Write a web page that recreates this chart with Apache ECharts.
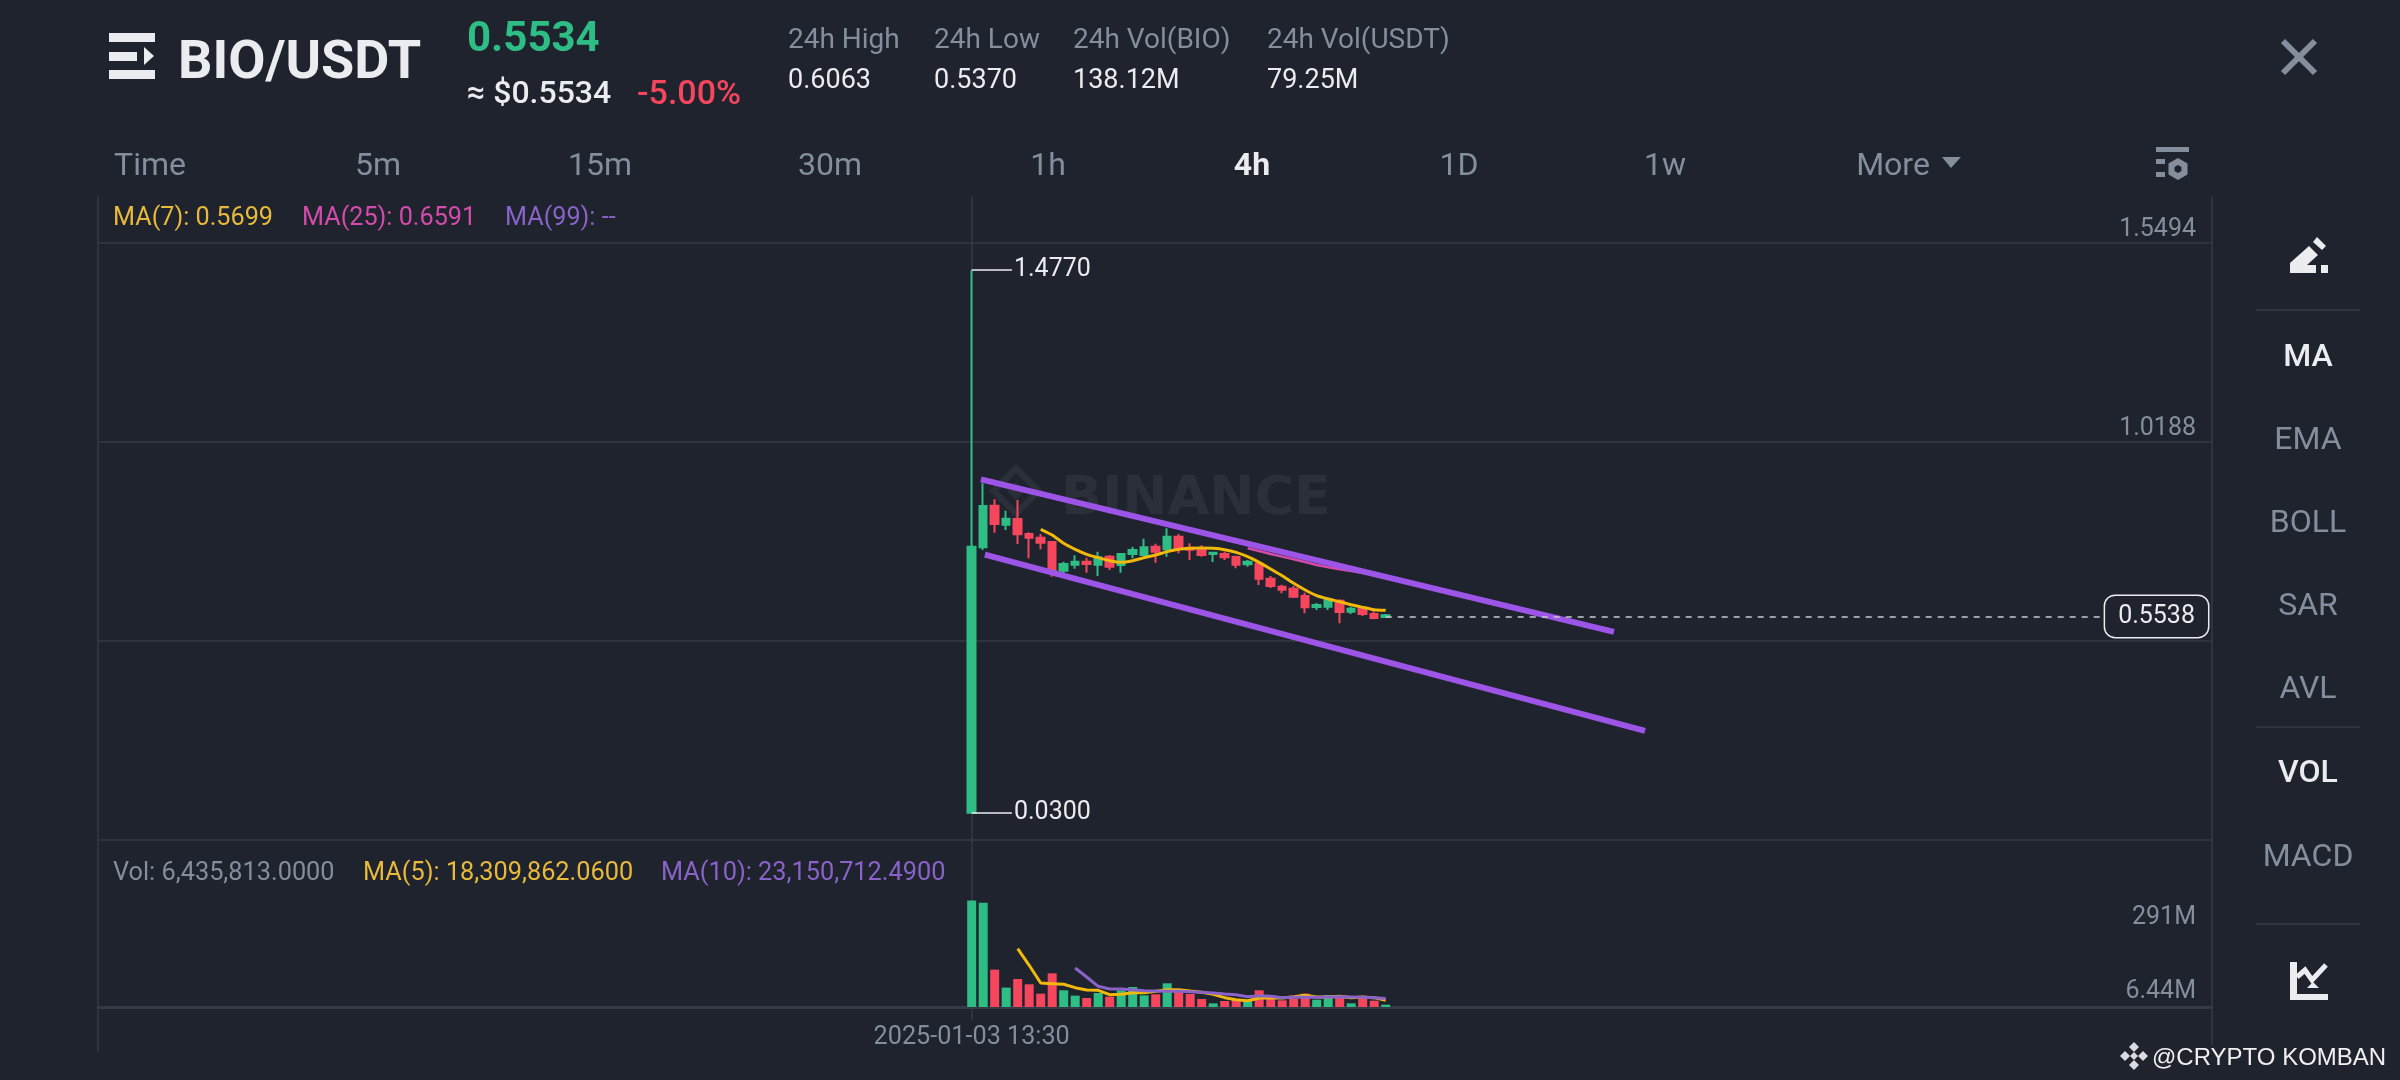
<!DOCTYPE html>
<html>
<head>
<meta charset="utf-8">
<style>html,body{margin:0;padding:0;background:#1e232d}#chart{width:2400px;height:1080px}</style>
<script src="https://cdn.jsdelivr.net/npm/echarts@6/dist/echarts.min.js"></script>
</head>
<body>
<div id="chart"></div>
<script>
// candle values
const opens  = [0.03, 0.7379, 0.8491, 0.7984, 0.8135, 0.7735, 0.7637, 0.7522, 0.6757, 0.6917, 0.6997, 0.6917, 0.7131, 0.6908, 0.7202, 0.7175, 0.7397, 0.7326, 0.7664, 0.7371, 0.7317, 0.7202, 0.7202, 0.7122, 0.6926, 0.6944, 0.6544, 0.6330, 0.6277, 0.6081, 0.5788, 0.5797, 0.5957, 0.5664, 0.5735, 0.5601, 0.5521];
const closes = [0.7397, 0.8482, 0.8002, 0.8144, 0.7726, 0.7637, 0.7504, 0.6775, 0.6935, 0.6997, 0.6935, 0.7113, 0.6864, 0.7202, 0.7308, 0.7379, 0.7264, 0.7664, 0.7344, 0.7317, 0.7175, 0.7237, 0.7113, 0.6917, 0.6997, 0.6544, 0.6348, 0.6250, 0.6064, 0.5779, 0.5841, 0.5993, 0.5655, 0.5744, 0.5601, 0.5495, 0.5566];
const lows   = [0.03, 0.7308, 0.7771, 0.7842, 0.7468, 0.7086, 0.7326, 0.6597, 0.6686, 0.6810, 0.6704, 0.6615, 0.6775, 0.6704, 0.7086, 0.7131, 0.6970, 0.7131, 0.7219, 0.7042, 0.7131, 0.6988, 0.7042, 0.6819, 0.6864, 0.6375, 0.6295, 0.6153, 0.6028, 0.5619, 0.5708, 0.5708, 0.5352, 0.5601, 0.5548, 0.5459, 0.5495];
const highs  = [1.477, 0.9086, 0.8660, 0.8357, 0.8642, 0.7779, 0.7735, 0.7522, 0.6997, 0.7166, 0.7104, 0.7264, 0.7175, 0.7219, 0.7397, 0.7611, 0.7477, 0.7886, 0.7735, 0.7486, 0.7433, 0.7237, 0.7264, 0.7157, 0.7042, 0.6997, 0.6615, 0.6384, 0.6348, 0.6170, 0.5895, 0.6046, 0.5993, 0.5797, 0.5753, 0.5672, 0.5601];
const volumes = [291, 285, 102, 53, 76.5, 62, 36.4, 92, 45.6, 31, 24.6, 38.3, 28.2, 45.6, 54.7, 31.9, 34.6, 64.7, 41, 35.5, 21.9, 10, 16.4, 20, 16.4, 45.6, 22.8, 18.2, 22.8, 36.4, 20, 32.8, 32.8, 10, 22.8, 17.3, 6.44];

const ma7Start = 6;
const ma7 = [0.7860, 0.7708, 0.7486, 0.7326, 0.7193, 0.7104, 0.7024, 0.6979, 0.7024, 0.7104, 0.7175, 0.7264, 0.7326, 0.7353, 0.7362, 0.7353, 0.7317, 0.7246, 0.7131, 0.6979, 0.6802, 0.6624, 0.6419, 0.6241, 0.6091, 0.6001, 0.5930, 0.5850, 0.5779, 0.5717, 0.5699];
const ma25Start = 24;
const ma25 = [0.7353, 0.7282, 0.7202, 0.7131, 0.7060, 0.6988, 0.6908, 0.6846, 0.6793, 0.6748, 0.6695, 0.6642, 0.6591];
const volMa5Start = 4;
const volMa5 = [159.4, 113.9, 65.6, 63.8, 62, 52.8, 46.5, 45.6, 33.7, 34.6, 39.2, 39.2, 42.8, 47.4, 47.4, 43.7, 40.1, 34.6, 25.5, 20, 17.3, 24.6, 25.5, 24.6, 28.2, 31.9, 27.3, 27.3, 29.2, 25.5, 27.3, 25.5, 18.3];
const volMa10Start = 9;
const volMa10 = [106.6, 82, 56.5, 49.2, 49.2, 47.4, 44.6, 43.7, 42.8, 42.8, 41.9, 40.1, 38.3, 35.5, 33.7, 28.2, 31, 29.2, 25.5, 26.4, 26.4, 26.4, 27.3, 28.2, 27.3, 26.4, 25.5, 23.15];

// hand drawn channel, [candle index, price]
const channelUpper = [[0.8, 0.9193], [55.85, 0.5123]];
const channelLower = [[1.15, 0.7184], [58.55, 0.2484]];

const priceGridLines = [1.5494, 1.0188, 0.4882];
const priceLabels = [1.5494, 1.0188];
const volumeLabels = [6.44, 291];
const lastPrice = 0.5538;
const highPrice = 1.477;
const lowPrice = 0.03;
const periods = ['Time', '5m', '15m', '30m', '1h', '4h', '1D', '1w', 'More'];
const periodX = [150, 378, 600, 830, 1048, 1252, 1459, 1665, 1893];
const indicators = ['MA', 'EMA', 'BOLL', 'SAR', 'AVL', 'VOL', 'MACD'];
const indicatorY = [355, 438, 521, 604, 687, 771, 855];

const BG = '#1e232d';
const UP = '#2ebd85';
const DOWN = '#f6465d';
const GREY = '#848e9c';
const WHITE = '#eaecef';
const LINE = '#343a45';
const YELLOW = '#f0b90b';
const PINK = '#d44bab';
const VIOLET = '#8a63c9';
const CHANNEL = '#9c55e6';
const MARK = '#2a2f3a';
const FONT = 'Roboto';

const xMin = -75.97;
const xMax = 107.85;

function withIndex(start, list) {
  return list.map(function (v, i) { return [start + i, v]; });
}

function txt(x, y, str, fill, size, weight, align) {
  return {
    type: 'text', x: x, y: y + 3, silent: true,
    style: { text: str, fill: fill, fontSize: size, fontWeight: weight || 400, fontFamily: FONT, align: align || 'left', verticalAlign: 'middle' }
  };
}
function rect(x, y, w, h, fill) {
  return { type: 'rect', silent: true, shape: { x: x, y: y, width: w, height: h }, style: { fill: fill } };
}
function poly(points, fill) {
  return { type: 'polygon', silent: true, shape: { points: points }, style: { fill: fill } };
}
function line(x1, y1, x2, y2, color, width) {
  return { type: 'line', silent: true, shape: { x1: x1, y1: y1, x2: x2, y2: y2 }, style: { stroke: color, lineWidth: width || 1.5 } };
}
function hexagon(cx, cy, r, fill) {
  const pts = [];
  for (let i = 0; i < 6; i++) {
    const a = Math.PI / 6 + i * Math.PI / 3;
    pts.push([cx + r * Math.cos(a), cy + r * Math.sin(a)]);
  }
  return poly(pts, fill);
}
function diamond(cx, cy, r, fill) {
  return poly([[cx, cy - r], [cx + r, cy], [cx, cy + r], [cx - r, cy]], fill);
}

const graphics = [
  // frame lines
  line(98, 197, 98, 1052, LINE), line(2212, 197, 2212, 1045, LINE),

  // header
  rect(109, 33, 46, 9, WHITE), rect(109, 52, 28, 9, WHITE), rect(109, 70, 46, 9, WHITE),
  poly([[144, 47], [154, 56], [144, 65]], WHITE),
  txt(178, 61, 'BIO/USDT', WHITE, 54, 700),
  txt(467, 37, '0.5534', UP, 42, 700),
  txt(467, 92, '≈ $0.5534', WHITE, 32, 500),
  txt(637, 92, '-5.00%', DOWN, 34, 500),
  txt(788, 38, '24h High', GREY, 28), txt(788, 78, '0.6063', WHITE, 27),
  txt(934, 38, '24h Low', GREY, 28), txt(934, 78, '0.5370', WHITE, 27),
  txt(1073, 38, '24h Vol(BIO)', GREY, 28), txt(1073, 78, '138.12M', WHITE, 27),
  txt(1267, 38, '24h Vol(USDT)', GREY, 28), txt(1267, 78, '79.25M', WHITE, 27),
  line(2283, 41, 2315, 73, GREY, 6), line(2315, 41, 2283, 73, GREY, 6),

  // settings icon next to the period bar
  rect(2156, 147, 33, 5, GREY), rect(2156, 159, 9, 5, GREY), rect(2156, 172, 9, 5, GREY),
  hexagon(2178, 169, 11, GREY), hexagon(2178, 169, 4, BG),
  poly([[1942, 157], [1961, 157], [1951, 168]], GREY),

  // legends
  txt(113, 216, 'MA(7): 0.5699', '#e8b93a', 25.2),
  txt(302, 216, 'MA(25): 0.6591', PINK, 25.2),
  txt(505, 216, 'MA(99): --', VIOLET, 25.2),
  txt(113, 871, 'Vol: 6,435,813.0000', GREY, 25.3),
  txt(363, 871, 'MA(5): 18,309,862.0600', '#e8b93a', 25.3),
  txt(661, 871, 'MA(10): 23,150,712.4900', VIOLET, 25.3),

  // watermark behind the candles
  diamond(1016, 491, 27, MARK), diamond(1016, 491, 18, BG), diamond(1016, 491, 9, MARK),
  { type: 'text', x: 1061, y: 500, silent: true, style: { text: 'BINANCE', fill: MARK, fontSize: 54, fontWeight: 700, fontFamily: 'DejaVu Sans', verticalAlign: 'middle' } },

  // side bar
  line(2256, 310, 2360, 310, LINE), line(2256, 727, 2360, 727, LINE), line(2256, 924, 2360, 924, LINE),
  poly([[2290, 273], [2290, 263], [2309, 246], [2318, 255], [2307, 265], [2316, 265], [2316, 273]], WHITE),
  poly([[2313, 242], [2317, 237], [2326, 246], [2322, 250]], WHITE),
  rect(2321, 265, 7, 8, WHITE),
  rect(2290, 962, 7, 38, WHITE), rect(2290, 994, 38, 6, WHITE),
  { type: 'polyline', silent: true, shape: { points: [[2297, 977], [2305, 970], [2312, 980], [2326, 965]] }, style: { stroke: WHITE, lineWidth: 5, fill: 'none' } },
  poly([[2307, 988], [2313, 982], [2319, 988]], WHITE),

  // credit in the corner
  diamond(2134, 1056, 4, '#d8dadd'),
  diamond(2125, 1056, 5, '#d8dadd'), diamond(2143, 1056, 5, '#d8dadd'),
  diamond(2134, 1047, 5, '#d8dadd'), diamond(2134, 1065, 5, '#d8dadd'),
  { type: 'text', x: 2152, y: 1058, silent: true, style: { text: '@CRYPTO KOMBAN', fill: '#f0f0f0', fontSize: 24, fontFamily: 'Liberation Sans', verticalAlign: 'middle' } }
];

periods.forEach(function (p, i) {
  const active = p === '4h';
  graphics.push(txt(periodX[i], 164, p, active ? WHITE : GREY, 32, active ? 700 : 400, 'center'));
});
indicators.forEach(function (name, i) {
  const active = name === 'MA' || name === 'VOL';
  graphics.push(txt(2308, indicatorY[i], name, active ? WHITE : GREY, 32, active ? 500 : 400, 'center'));
});

const option = {
  backgroundColor: BG,
  animation: false,
  textStyle: { fontFamily: FONT },
  graphic: graphics.map(function (g) { return Object.assign({ z: 0 }, g); }),
  grid: [
    { left: 98, width: 2114, top: 197, height: 643 },
    { left: 98, width: 2114, top: 840, height: 167 }
  ],
  xAxis: [
    {
      type: 'value', gridIndex: 0, min: xMin, max: xMax,
      axisLabel: { show: false },
      axisTick: { show: false, customValues: [0] },
      axisLine: { onZero: false, lineStyle: { color: LINE, width: 1.5 } },
      splitLine: { show: true, lineStyle: { color: LINE, width: 1.5 } }
    },
    {
      type: 'value', gridIndex: 1, min: xMin, max: xMax,
      axisLine: { onZero: false, lineStyle: { color: LINE, width: 3 } },
      axisTick: { show: true, length: 13, customValues: [0], lineStyle: { color: LINE, width: 1.5 } },
      axisLabel: {
        customValues: [0], color: GREY, fontSize: 25.2, margin: 18,
        formatter: function () { return '2025-01-03 13:30'; }
      },
      splitLine: { show: true, lineStyle: { color: LINE, width: 1.5 } }
    }
  ],
  yAxis: [
    {
      type: 'value', gridIndex: 0, position: 'right', min: -0.0424, max: 1.672,
      axisLine: { show: false },
      axisTick: { show: false, customValues: priceGridLines },
      axisLabel: {
        inside: true, customValues: priceLabels, color: GREY, fontSize: 25, margin: 16,
        verticalAlign: 'bottom', padding: [0, 0, 1, 0],
        formatter: function (v) { return v.toFixed(4); }
      },
      splitLine: { show: true, lineStyle: { color: LINE, width: 1.5 } }
    },
    {
      type: 'value', gridIndex: 1, position: 'right', min: 0, max: 456,
      axisLine: { show: false },
      axisTick: { show: false },
      splitLine: { show: false },
      axisLabel: {
        inside: true, customValues: volumeLabels, color: GREY, fontSize: 25, margin: 16,
        verticalAlignMinLabel: 'bottom', verticalAlignMaxLabel: 'top', padding: [5, 0, 0, 0],
        formatter: function (v) { return v + 'M'; }
      }
    }
  ],
  series: [
    {
      type: 'candlestick', xAxisIndex: 0, yAxisIndex: 0, barWidth: 8, silent: true,
      itemStyle: { color: UP, color0: DOWN, borderColor: UP, borderColor0: DOWN, borderWidth: 2 },
      data: opens.map(function (o, i) { return [i, o, closes[i], lows[i], highs[i]]; }),
      markLine: {
        silent: true, symbol: 'none', animation: false,
        data: [
          [
            { coord: [0, highPrice], lineStyle: { color: WHITE, width: 1.5, type: 'solid' }, label: { show: true, position: 'end', formatter: highPrice.toFixed(4), color: WHITE, fontSize: 25, distance: 2, padding: [10, 0, 0, 0] } },
            { coord: [3.5, highPrice] }
          ],
          [
            { coord: [0, lowPrice], lineStyle: { color: WHITE, width: 1.5, type: 'solid' }, label: { show: true, position: 'end', formatter: lowPrice.toFixed(4), color: WHITE, fontSize: 25, distance: 2, padding: [5, 0, 0, 0] } },
            { coord: [3.5, lowPrice] }
          ],
          [
            {
              coord: [36, lastPrice], lineStyle: { color: '#c8ccd2', width: 1.5, type: [6, 6] },
              label: { show: true, position: 'insideEnd', distance: 0, formatter: lastPrice.toFixed(4), color: WHITE, fontSize: 25, backgroundColor: BG, borderColor: WHITE, borderWidth: 1.5, borderRadius: 10, padding: [8, 13, 8, 13] }
            },
            { coord: [xMax - 0.35, lastPrice] }
          ]
        ]
      }
    },
    {
      type: 'line', xAxisIndex: 0, yAxisIndex: 0, showSymbol: false, silent: true, z: 3,
      lineStyle: { color: PINK, width: 2.5 }, data: withIndex(ma25Start, ma25)
    },
    {
      type: 'line', xAxisIndex: 0, yAxisIndex: 0, showSymbol: false, silent: true, z: 4,
      lineStyle: { color: CHANNEL, width: 6 }, data: channelUpper
    },
    {
      type: 'line', xAxisIndex: 0, yAxisIndex: 0, showSymbol: false, silent: true, z: 4,
      lineStyle: { color: CHANNEL, width: 6 }, data: channelLower
    },
    {
      type: 'line', xAxisIndex: 0, yAxisIndex: 0, showSymbol: false, silent: true, z: 5, smooth: 0.2,
      lineStyle: { color: YELLOW, width: 3 }, data: withIndex(ma7Start, ma7)
    },
    {
      type: 'bar', xAxisIndex: 1, yAxisIndex: 1, barWidth: 9, silent: true,
      data: volumes.map(function (v, i) {
        return { value: [i, v], itemStyle: { color: closes[i] >= opens[i] ? UP : DOWN } };
      })
    },
    {
      type: 'line', xAxisIndex: 1, yAxisIndex: 1, showSymbol: false, silent: true, z: 4,
      lineStyle: { color: YELLOW, width: 3 }, data: withIndex(volMa5Start, volMa5)
    },
    {
      type: 'line', xAxisIndex: 1, yAxisIndex: 1, showSymbol: false, silent: true, z: 5,
      lineStyle: { color: VIOLET, width: 3 }, data: withIndex(volMa10Start, volMa10)
    }
  ]
};

const chart = echarts.init(document.getElementById('chart'));
chart.setOption(option);
</script>
</body>
</html>
